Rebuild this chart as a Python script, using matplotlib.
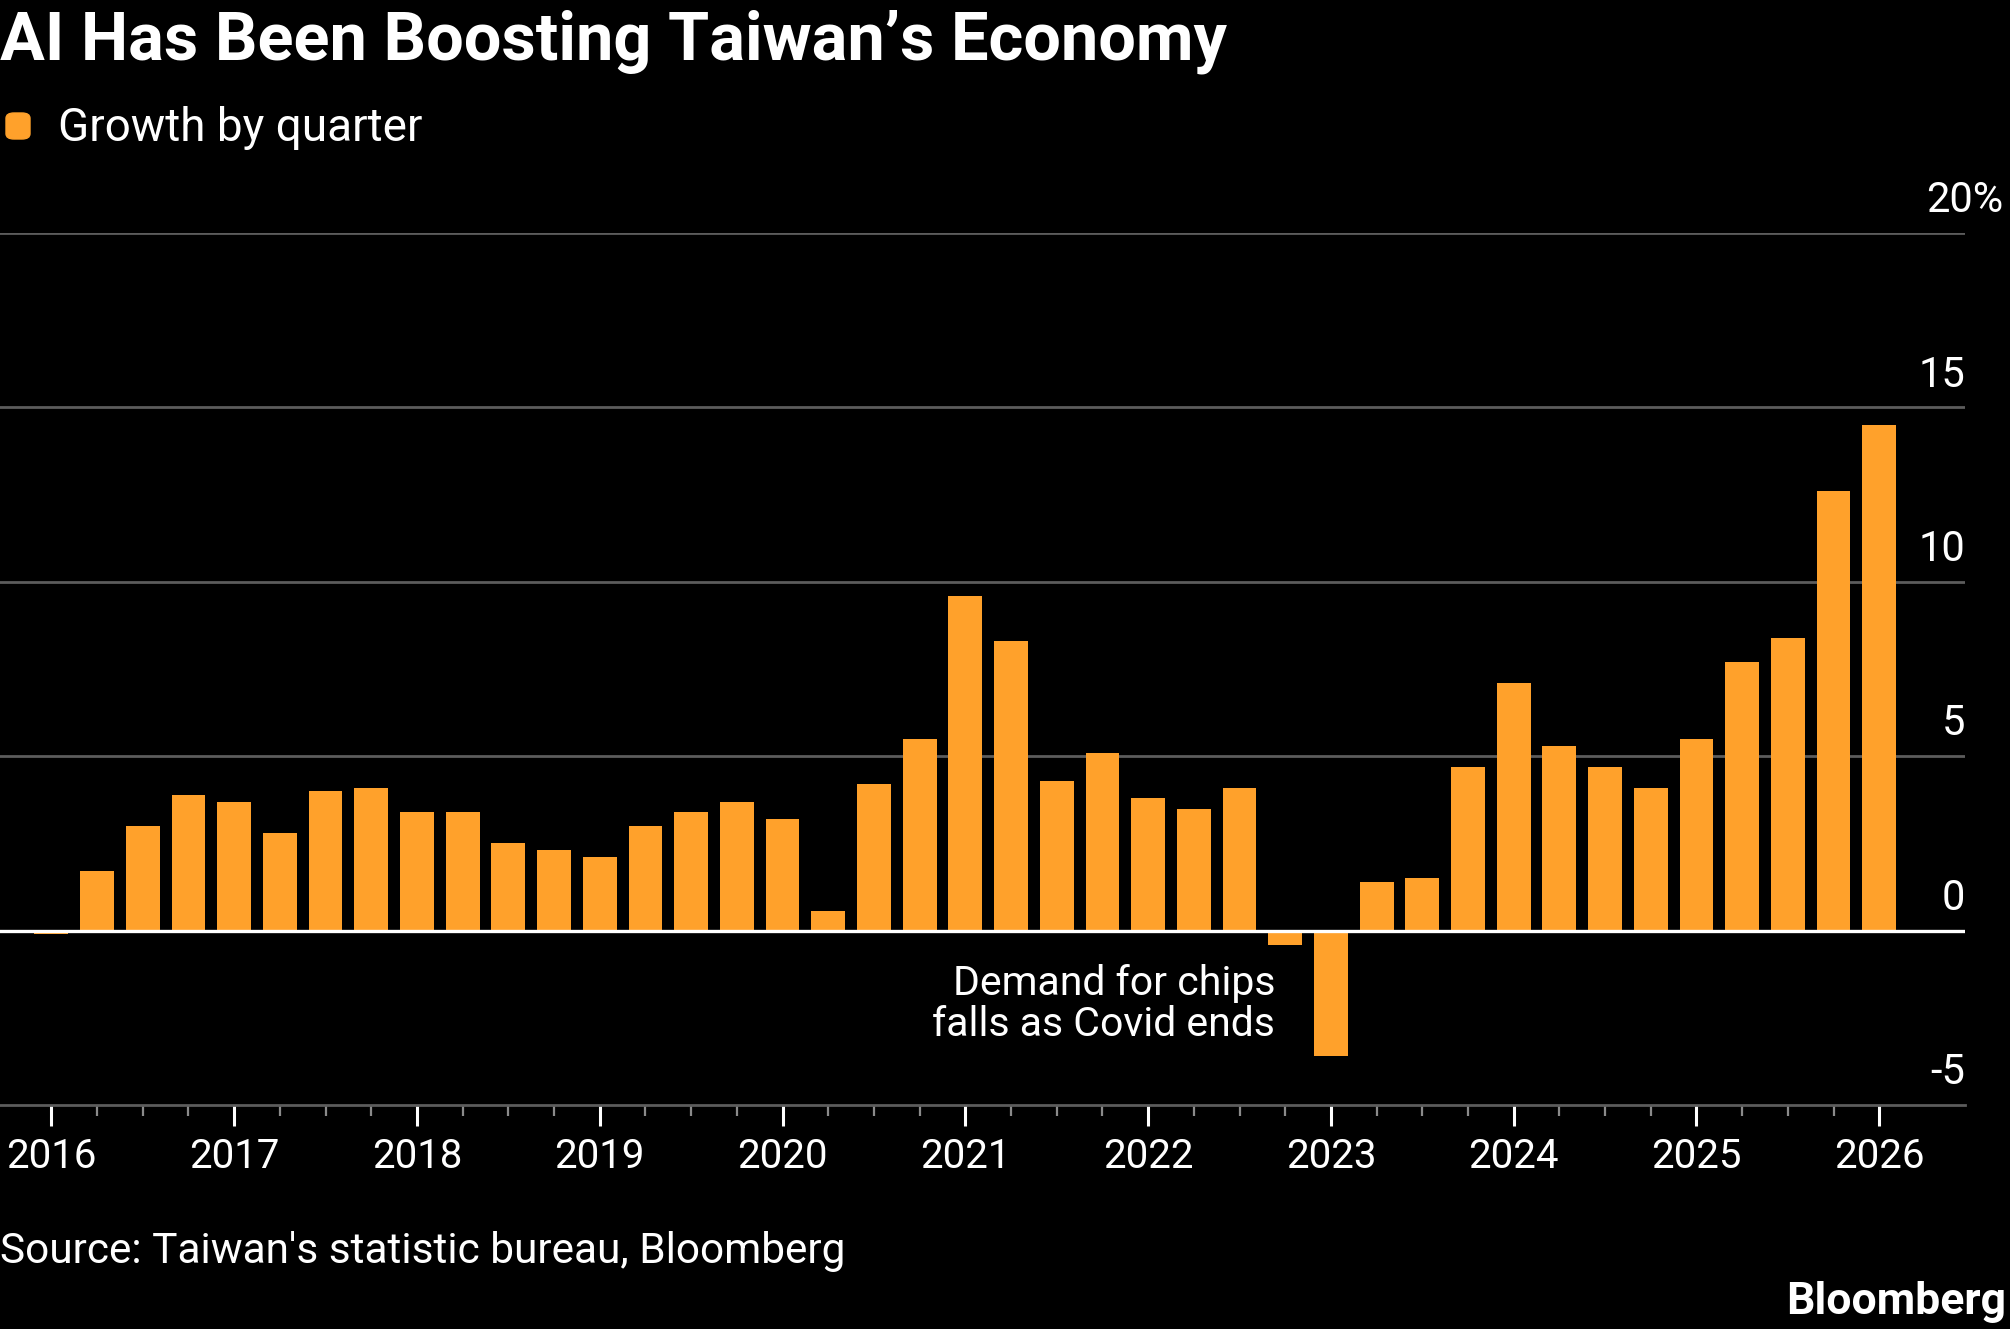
import matplotlib
matplotlib.use("Agg")
import matplotlib.pyplot as plt
import numpy as np
from matplotlib.patches import FancyBboxPatch

# quarterly growth, % (first bar sits on the 2016 tick, last on 2026)
growth = [
    -0.1, 1.7, 3.0, 3.9, 3.7, 2.8, 4.0, 4.1, 3.4, 3.4,
    2.5, 2.3, 2.1, 3.0, 3.4, 3.7, 3.2, 0.55, 4.2, 5.5,
    9.6, 8.3, 4.3, 5.1, 3.8, 3.5, 4.1, -0.4, -3.6, 1.4,
    1.5, 4.7, 7.1, 5.3, 4.7, 4.1, 5.5, 7.7, 8.4, 12.6,
    14.5,
]
years = list(range(2016, 2027))
y_ticks = [-5, 0, 5, 10, 15, 20]

BG = "#000000"
ORANGE = "#ffa12b"
GRID = "#5c5c5c"

plt.rcParams["font.family"] = ["Roboto", "DejaVu Sans"]

W, H = 2010, 1329
fig = plt.figure(figsize=(W / 100, H / 100), dpi=100, facecolor=BG)

# axes box in pixels: x 0..1965, y 233..1105 (from top)
ax = fig.add_axes([0, 1 - 1105 / H, 1965 / W, (1105 - 233) / H], facecolor=BG)

x = 2016 + 0.25 * np.arange(len(growth))
ax.bar(x, growth, width=0.185, color=ORANGE, zorder=3)

ax.set_xlim(2015.719, 2026.469)
ax.set_ylim(-5, 20)

for v in y_ticks:
    if v == 0:
        ax.axhline(0, color="white", lw=2.4, zorder=4)
    elif v != -5:
        ax.axhline(v, color=GRID, lw=2.0, zorder=1)
    # top label carries the unit and hangs a little past the gridlines
    label, xpos = (f"{v}%", 2003 / 1965) if v == y_ticks[-1] else (str(v), 1.0)
    ax.annotate(label, xy=(xpos, v), xycoords=("axes fraction", "data"),
                xytext=(0, 15), textcoords="offset points",
                ha="right", va="baseline", color="white", fontsize=30,
                annotation_clip=False)

for side in ["top", "right", "left"]:
    ax.spines[side].set_visible(False)
ax.spines["bottom"].set_color(GRID)
ax.spines["bottom"].set_linewidth(2.0)

ax.set_yticks([])
ax.set_xticks(years)
ax.set_xticklabels([str(y) for y in years])
ax.set_xticks(2016 + 0.25 * np.arange(41), minor=True)
ax.tick_params(axis="x", which="major", length=15, width=2.2, color="white",
               labelcolor="white", labelsize=29, pad=8)
ax.tick_params(axis="x", which="minor", length=8, width=1.6, color="#8a8a8a")

note = ["Demand for chips", "falls as Covid ends"]
for i, line in enumerate(note):
    fig.text(1275 / W, 1 - (995 + 41 * i) / H, line, ha="right", va="baseline",
             color="white", fontsize=29.5)

# title, legend, footer
fig.text(0, 1 - 59 / H, "AI Has Been Boosting Taiwan\u2019s Economy",
         ha="left", va="baseline", color="white", fontsize=48, fontweight="bold")

fig.patches.append(FancyBboxPatch((6 / W, 1 - 139 / H), 24 / W, 26 / H,
                                  boxstyle="round,pad=0,rounding_size=0.004",
                                  transform=fig.transFigure, color=ORANGE))
fig.text(58 / W, 1 - 141 / H, "Growth by quarter", ha="left", va="baseline",
         color="white", fontsize=33)

fig.text(0, 1 - 1263 / H, "Source: Taiwan's statistic bureau, Bloomberg",
         ha="left", va="baseline", color="white", fontsize=30.5)
fig.text(2006 / W, 1 - 1314 / H, "Bloomberg", ha="right", va="baseline",
         color="white", fontsize=32, fontweight="bold")

fig.savefig("out.png", dpi=100, facecolor=BG)
